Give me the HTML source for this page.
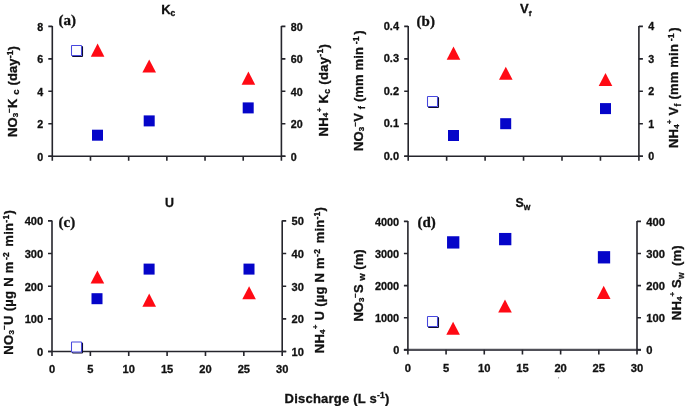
<!DOCTYPE html>
<html><head><meta charset="utf-8"><title>Figure</title>
<style>
html,body{margin:0;padding:0;background:#fff;}
svg{display:block;}
text{font-family:"Liberation Sans",Arial,Helvetica,sans-serif;font-weight:bold;fill:#111;stroke:#111;stroke-width:0.3px;}
.l{font-size:13px;}
.g{font-family:"Liberation Serif","Times New Roman",serif;font-size:15px;}
</style></head>
<body>
<svg width="685" height="406" viewBox="0 0 685 406">
<rect width="685" height="406" fill="#fff"/>
<path d="M48.30,156.2 H285.40" stroke="#25252c" stroke-width="1.6" fill="none"/>
<path d="M52.3,25.90 V160.80 M281.4,25.90 V160.80" stroke="#25252c" stroke-width="1.6" fill="none"/>
<path d="M48.30,156.20 H52.3 M281.4,156.20 H285.40 M48.30,123.75 H52.3 M281.4,123.75 H285.40 M48.30,91.30 H52.3 M281.4,91.30 H285.40 M48.30,58.85 H52.3 M281.4,58.85 H285.40 M48.30,26.40 H52.3 M281.4,26.40 H285.40 M90.48,156.2 V160.80 M128.67,156.2 V160.80 M166.85,156.2 V160.80 M205.03,156.2 V160.80 M243.22,156.2 V160.80 " stroke="#25252c" stroke-width="1.6" fill="none"/>
<text x="43.10" y="160.60" text-anchor="end" class="t" font-size="10.7">0</text>
<text x="290.70" y="160.60" class="t" font-size="10.7">0</text>
<text x="43.10" y="128.15" text-anchor="end" class="t" font-size="10.7">2</text>
<text x="290.70" y="128.15" class="t" font-size="10.7">20</text>
<text x="43.10" y="95.70" text-anchor="end" class="t" font-size="10.7">4</text>
<text x="290.70" y="95.70" class="t" font-size="10.7">40</text>
<text x="43.10" y="63.25" text-anchor="end" class="t" font-size="10.7">6</text>
<text x="290.70" y="63.25" class="t" font-size="10.7">60</text>
<text x="43.10" y="30.80" text-anchor="end" class="t" font-size="10.7">8</text>
<text x="290.70" y="30.80" class="t" font-size="10.7">80</text>
<text x="161.2" y="13.6" class="l" style="font-size:13px">K<tspan dy="2.5" font-size="8.5">c</tspan><tspan dy="-2.5" font-size="0.1">&#8203;</tspan></text>
<text x="58.5" y="25.1" class="g">(a)</text>
<text transform="translate(17.3,91.5) rotate(-90)" class="l" style="font-size:13px;letter-spacing:0.12px" text-anchor="middle">NO<tspan dy="0.9" font-size="8">3</tspan><tspan dy="-0.9" font-size="0.1">&#8203;</tspan><tspan dx="0" dy="-5.8" font-size="8">−</tspan><tspan dx="0" dy="5.8" font-size="0.1">&#8203;</tspan>K <tspan dy="2" font-size="9.5">c</tspan><tspan dy="-2" font-size="0.1">&#8203;</tspan> (day<tspan dx="0" dy="-4.5" font-size="8.5">-1</tspan><tspan dx="0" dy="4.5" font-size="0.1">&#8203;</tspan>)</text>
<text transform="translate(327.5,90.2) rotate(-90)" class="l" style="font-size:13px;letter-spacing:0.32px" text-anchor="middle">NH<tspan dy="0.9" font-size="8">4</tspan><tspan dy="-0.9" font-size="0.1">&#8203;</tspan><tspan dx="0" dy="-6" font-size="8">+</tspan><tspan dx="0" dy="6" font-size="0.1">&#8203;</tspan> K<tspan dy="2.5" font-size="8.5">c</tspan><tspan dy="-2.5" font-size="0.1">&#8203;</tspan> (day<tspan dx="0" dy="-4.5" font-size="8.5">-1</tspan><tspan dx="0" dy="4.5" font-size="0.1">&#8203;</tspan>)</text>
<rect x="72.50" y="46.50" width="10.0" height="10.0" rx="0.5" fill="none" stroke="#0c0c30" stroke-width="1.1"/><rect x="71.50" y="45.50" width="10.0" height="10.0" rx="0.5" fill="#fdfdff" stroke="#4848de" stroke-width="1.05"/>
<polygon points="97.60,43.60 104.40,56.70 90.80,56.70" fill="#ff0a14"/>
<polygon points="149.20,59.50 156.00,72.60 142.40,72.60" fill="#ff0a14"/>
<polygon points="248.40,71.60 255.20,84.70 241.60,84.70" fill="#ff0a14"/>
<rect x="92.00" y="129.70" width="11" height="11" fill="#0505c9"/>
<rect x="143.70" y="115.40" width="11" height="11" fill="#0505c9"/>
<rect x="242.70" y="102.40" width="11" height="11" fill="#0505c9"/>
<path d="M404.20,156.2 H642.90" stroke="#25252c" stroke-width="1.6" fill="none"/>
<path d="M408.2,25.90 V160.80 M638.9,25.90 V160.80" stroke="#25252c" stroke-width="1.6" fill="none"/>
<path d="M404.20,156.20 H408.2 M638.9,156.20 H642.90 M404.20,123.75 H408.2 M638.9,123.75 H642.90 M404.20,91.30 H408.2 M638.9,91.30 H642.90 M404.20,58.85 H408.2 M638.9,58.85 H642.90 M404.20,26.40 H408.2 M638.9,26.40 H642.90 M446.65,156.2 V160.80 M485.10,156.2 V160.80 M523.55,156.2 V160.80 M562.00,156.2 V160.80 M600.45,156.2 V160.80 " stroke="#25252c" stroke-width="1.6" fill="none"/>
<text x="399.00" y="159.80" text-anchor="end" class="t" font-size="11">0.0</text>
<text x="648.20" y="160.20" class="t" font-size="10.7">0</text>
<text x="399.00" y="127.35" text-anchor="end" class="t" font-size="11">0.1</text>
<text x="648.20" y="127.75" class="t" font-size="10.7">1</text>
<text x="399.00" y="94.90" text-anchor="end" class="t" font-size="11">0.2</text>
<text x="648.20" y="95.30" class="t" font-size="10.7">2</text>
<text x="399.00" y="62.45" text-anchor="end" class="t" font-size="11">0.3</text>
<text x="648.20" y="62.85" class="t" font-size="10.7">3</text>
<text x="399.00" y="30.00" text-anchor="end" class="t" font-size="11">0.4</text>
<text x="648.20" y="30.40" class="t" font-size="10.7">4</text>
<text x="520" y="13.1" class="l" style="font-size:13px">V<tspan dy="2.5" font-size="8">f</tspan><tspan dy="-2.5" font-size="0.1">&#8203;</tspan></text>
<text x="416.6" y="25.6" class="g">(b)</text>
<text transform="translate(363.3,90.7) rotate(-90)" class="l" style="font-size:13px;letter-spacing:0.15px" text-anchor="middle">NO<tspan dy="0.9" font-size="8">3</tspan><tspan dy="-0.9" font-size="0.1">&#8203;</tspan><tspan dx="0" dy="-5.8" font-size="8">−</tspan><tspan dx="0" dy="5.8" font-size="0.1">&#8203;</tspan>V <tspan dy="2" font-size="9.5">f</tspan><tspan dy="-2" font-size="0.1">&#8203;</tspan> (mm min<tspan dx="2.6" dy="-4.5" font-size="8.5">-1</tspan><tspan dx="1.6" dy="4.5" font-size="0.1">&#8203;</tspan>)</text>
<text transform="translate(678.3,87.6) rotate(-90)" class="l" style="font-size:13px;letter-spacing:0.22px" text-anchor="middle">NH<tspan dy="0.9" font-size="8">4</tspan><tspan dy="-0.9" font-size="0.1">&#8203;</tspan><tspan dx="0" dy="-6" font-size="8">+</tspan><tspan dx="0" dy="6" font-size="0.1">&#8203;</tspan> V<tspan dy="2.5" font-size="8.5">f</tspan><tspan dy="-2.5" font-size="0.1">&#8203;</tspan> (mm min<tspan dx="2.6" dy="-4.5" font-size="8.5">-1</tspan><tspan dx="1.6" dy="4.5" font-size="0.1">&#8203;</tspan>)</text>
<rect x="428.50" y="97.50" width="10.0" height="10.0" rx="0.5" fill="none" stroke="#0c0c30" stroke-width="1.1"/><rect x="427.50" y="96.50" width="10.0" height="10.0" rx="0.5" fill="#fdfdff" stroke="#4848de" stroke-width="1.05"/>
<polygon points="453.50,46.60 460.30,59.70 446.70,59.70" fill="#ff0a14"/>
<polygon points="505.80,66.70 512.60,79.80 499.00,79.80" fill="#ff0a14"/>
<polygon points="605.50,72.90 612.30,86.00 598.70,86.00" fill="#ff0a14"/>
<rect x="448.00" y="130.00" width="11" height="11" fill="#0505c9"/>
<rect x="500.20" y="118.20" width="11" height="11" fill="#0505c9"/>
<rect x="600.00" y="103.10" width="11" height="11" fill="#0505c9"/>
<path d="M48.00,351.5 H286.20" stroke="#25252c" stroke-width="1.6" fill="none"/>
<path d="M52.0,220.40 V356.10 M282.2,220.40 V356.10" stroke="#25252c" stroke-width="1.6" fill="none"/>
<path d="M48.00,351.50 H52.0 M282.2,351.50 H286.20 M48.00,318.85 H52.0 M282.2,318.85 H286.20 M48.00,286.20 H52.0 M282.2,286.20 H286.20 M48.00,253.55 H52.0 M282.2,253.55 H286.20 M48.00,220.90 H52.0 M282.2,220.90 H286.20 M90.37,351.5 V356.10 M128.73,351.5 V356.10 M167.10,351.5 V356.10 M205.47,351.5 V356.10 M243.83,351.5 V356.10 " stroke="#25252c" stroke-width="1.6" fill="none"/>
<text x="43.20" y="355.90" text-anchor="end" class="t" font-size="11.1">0</text>
<text x="291.50" y="355.90" class="t" font-size="11.1">10</text>
<text x="43.20" y="323.25" text-anchor="end" class="t" font-size="11.1">100</text>
<text x="291.50" y="323.25" class="t" font-size="11.1">20</text>
<text x="43.20" y="290.60" text-anchor="end" class="t" font-size="11.1">200</text>
<text x="291.50" y="290.60" class="t" font-size="11.1">30</text>
<text x="43.20" y="257.95" text-anchor="end" class="t" font-size="11.1">300</text>
<text x="291.50" y="257.95" class="t" font-size="11.1">40</text>
<text x="43.20" y="225.30" text-anchor="end" class="t" font-size="11.1">400</text>
<text x="291.50" y="225.30" class="t" font-size="11.1">50</text>
<text x="52.00" y="373.00" text-anchor="middle" class="t" font-size="11.1">0</text>
<text x="90.37" y="373.00" text-anchor="middle" class="t" font-size="11.1">5</text>
<text x="128.73" y="373.00" text-anchor="middle" class="t" font-size="11.1">10</text>
<text x="167.10" y="373.00" text-anchor="middle" class="t" font-size="11.1">15</text>
<text x="205.47" y="373.00" text-anchor="middle" class="t" font-size="11.1">20</text>
<text x="243.83" y="373.00" text-anchor="middle" class="t" font-size="11.1">25</text>
<text x="282.20" y="373.00" text-anchor="middle" class="t" font-size="11.1">30</text>
<text x="165" y="206.9" class="l" style="font-size:12.4px">U</text>
<text x="58.5" y="226.5" class="g">(c)</text>
<text transform="translate(13.2,282.3) rotate(-90)" class="l" style="font-size:13px;letter-spacing:0.28px" text-anchor="middle">NO<tspan dy="0.9" font-size="8">3</tspan><tspan dy="-0.9" font-size="0.1">&#8203;</tspan><tspan dx="0" dy="-5.8" font-size="8">−</tspan><tspan dx="0" dy="5.8" font-size="0.1">&#8203;</tspan>U  (µg N m<tspan dx="1.4" dy="-4.5" font-size="8.5">-2</tspan><tspan dx="1.4" dy="4.5" font-size="0.1">&#8203;</tspan> min<tspan dx="0" dy="-4.5" font-size="8.5">-1</tspan><tspan dx="0" dy="4.5" font-size="0.1">&#8203;</tspan>)</text>
<text transform="translate(324.3,280) rotate(-90)" class="l" style="font-size:13px;letter-spacing:0.26px" text-anchor="middle">NH<tspan dy="0.9" font-size="8">4</tspan><tspan dy="-0.9" font-size="0.1">&#8203;</tspan><tspan dx="0" dy="-6" font-size="8">+</tspan><tspan dx="0" dy="6" font-size="0.1">&#8203;</tspan> U (µg N m<tspan dx="0.2" dy="-4.5" font-size="8.5">-2</tspan><tspan dx="1.6" dy="4.5" font-size="0.1">&#8203;</tspan> min<tspan dx="0" dy="-4.5" font-size="8.5">-1</tspan><tspan dx="0" dy="4.5" font-size="0.1">&#8203;</tspan>)</text>
<rect x="72.50" y="343.00" width="10.0" height="10.0" rx="0.5" fill="none" stroke="#0c0c30" stroke-width="1.1"/><rect x="71.50" y="342.00" width="10.0" height="10.0" rx="0.5" fill="#fdfdff" stroke="#4848de" stroke-width="1.05"/>
<polygon points="97.40,270.50 104.20,283.60 90.60,283.60" fill="#ff0a14"/>
<polygon points="149.20,293.60 156.00,306.70 142.40,306.70" fill="#ff0a14"/>
<polygon points="249.10,286.20 255.90,299.30 242.30,299.30" fill="#ff0a14"/>
<rect x="91.50" y="293.20" width="11" height="11" fill="#0505c9"/>
<rect x="143.60" y="263.60" width="11" height="11" fill="#0505c9"/>
<rect x="243.50" y="263.60" width="11" height="11" fill="#0505c9"/>
<path d="M403.90,349.8 H641.00" stroke="#505058" stroke-width="2.2" fill="none"/>
<path d="M407.9,220.90 V354.40 M637.0,220.90 V354.40" stroke="#25252c" stroke-width="1.6" fill="none"/>
<path d="M403.90,349.80 H407.9 M637.0,349.80 H641.00 M403.90,317.70 H407.9 M637.0,317.70 H641.00 M403.90,285.60 H407.9 M637.0,285.60 H641.00 M403.90,253.50 H407.9 M637.0,253.50 H641.00 M403.90,221.40 H407.9 M637.0,221.40 H641.00 M446.08,349.8 V354.40 M484.27,349.8 V354.40 M522.45,349.8 V354.40 M560.63,349.8 V354.40 M598.82,349.8 V354.40 " stroke="#25252c" stroke-width="1.6" fill="none"/>
<text x="399.20" y="353.90" text-anchor="end" class="t" font-size="10.9">0</text>
<text x="646.30" y="354.20" class="t" font-size="11.2">0</text>
<text x="399.20" y="321.80" text-anchor="end" class="t" font-size="10.9">1000</text>
<text x="646.30" y="322.10" class="t" font-size="11.2">100</text>
<text x="399.20" y="289.70" text-anchor="end" class="t" font-size="10.9">2000</text>
<text x="646.30" y="290.00" class="t" font-size="11.2">200</text>
<text x="399.20" y="257.60" text-anchor="end" class="t" font-size="10.9">3000</text>
<text x="646.30" y="257.90" class="t" font-size="11.2">300</text>
<text x="399.20" y="225.50" text-anchor="end" class="t" font-size="10.9">4000</text>
<text x="646.30" y="225.80" class="t" font-size="11.2">400</text>
<text x="407.90" y="372.00" text-anchor="middle" class="t" font-size="11.2">0</text>
<text x="446.08" y="372.00" text-anchor="middle" class="t" font-size="11.2">5</text>
<text x="484.27" y="372.00" text-anchor="middle" class="t" font-size="11.2">10</text>
<text x="522.45" y="372.00" text-anchor="middle" class="t" font-size="11.2">15</text>
<text x="560.63" y="372.00" text-anchor="middle" class="t" font-size="11.2">20</text>
<text x="598.82" y="372.00" text-anchor="middle" class="t" font-size="11.2">25</text>
<text x="637.00" y="372.00" text-anchor="middle" class="t" font-size="11.2">30</text>
<text x="515.5" y="207.2" class="l" style="font-size:12.3px">S<tspan dy="2.5" font-size="8.5">w</tspan><tspan dy="-2.5" font-size="0.1">&#8203;</tspan></text>
<text x="417.5" y="226.5" class="g">(d)</text>
<text transform="translate(363.3,285.5) rotate(-90)" class="l" style="font-size:13px;letter-spacing:0px" text-anchor="middle">NO<tspan dy="0.9" font-size="8">3</tspan><tspan dy="-0.9" font-size="0.1">&#8203;</tspan><tspan dx="0" dy="-5.8" font-size="8">−</tspan><tspan dx="0" dy="5.8" font-size="0.1">&#8203;</tspan>S <tspan dy="2" font-size="9.5">w</tspan><tspan dy="-2" font-size="0.1">&#8203;</tspan> (m)</text>
<text transform="translate(681.3,282.7) rotate(-90)" class="l" style="font-size:13px;letter-spacing:0.15px" text-anchor="middle">NH<tspan dy="0.9" font-size="8">4</tspan><tspan dy="-0.9" font-size="0.1">&#8203;</tspan><tspan dx="0" dy="-6" font-size="8">+</tspan><tspan dx="0" dy="6" font-size="0.1">&#8203;</tspan> S<tspan dy="2.5" font-size="8.5">w</tspan><tspan dy="-2.5" font-size="0.1">&#8203;</tspan> <tspan dx="2.6">(</tspan>m)</text>
<rect x="428.50" y="317.50" width="10.0" height="10.0" rx="0.5" fill="none" stroke="#0c0c30" stroke-width="1.1"/><rect x="427.50" y="316.50" width="10.0" height="10.0" rx="0.5" fill="#fdfdff" stroke="#4848de" stroke-width="1.05"/>
<polygon points="453.10,321.70 459.90,334.80 446.30,334.80" fill="#ff0a14"/>
<polygon points="505.00,299.50 511.80,312.60 498.20,312.60" fill="#ff0a14"/>
<polygon points="603.70,285.80 610.50,298.90 596.90,298.90" fill="#ff0a14"/>
<rect x="447.05" y="236.25" width="12.3" height="12.3" fill="#0505c9"/>
<rect x="499.05" y="232.95" width="12.3" height="12.3" fill="#0505c9"/>
<rect x="597.85" y="251.15" width="12.3" height="12.3" fill="#0505c9"/>
<circle cx="558.6" cy="377.8" r="0.6" fill="#777"/>
<text x="284.6" y="402.5" class="l" style="letter-spacing:0.22px">Discharge (L s<tspan dx="0" dy="-4.5" font-size="8.5">-1</tspan><tspan dx="0" dy="4.5" font-size="0.1">&#8203;</tspan>)</text>
</svg>
</body></html>
